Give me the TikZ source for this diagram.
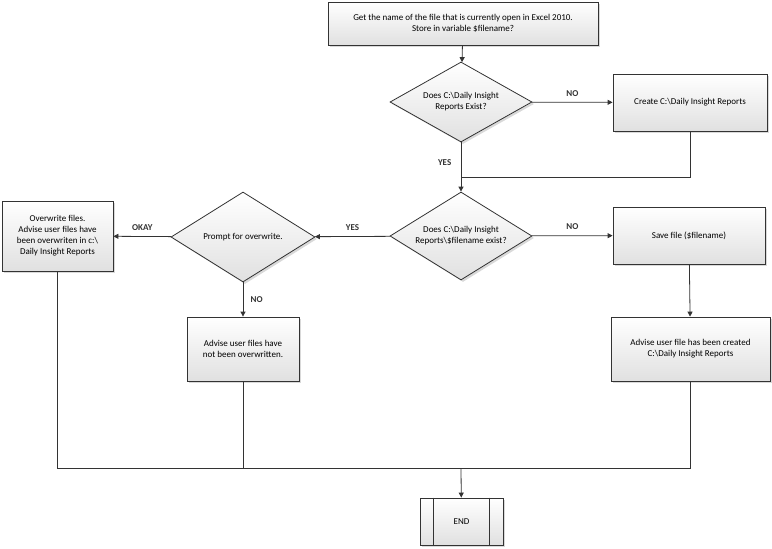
\documentclass[tikz,border=0pt]{standalone}
\usepackage{fontspec}
\setmainfont{Carlito}
\usetikzlibrary{shapes.geometric,shadows,arrows.meta}
\begin{document}
\begin{tikzpicture}[x=1pt,y=-1pt,
  font=\fontsize{9}{11}\selectfont,
  base/.style={draw=black!80,line width=0.8pt,top color=white,bottom color=black!12,drop shadow={opacity=0.3,shadow xshift=2pt,shadow yshift=-2pt},align=center,inner sep=2pt},
  box/.style={base,rectangle,minimum width=#1},
  dia/.style={base,diamond,aspect=1.75,inner sep=1pt},
  lab/.style={font=\fontsize{9}{11}\selectfont\bfseries},
  arr/.style={-{Triangle[length=5pt,width=5pt]},black!80,line width=0.8pt},
  ln/.style={black!80,line width=0.8pt}]
\useasboundingbox (0,0) rectangle (772,549);
\node[box=270pt,minimum height=43pt] (top) at (463,23.5) {Get the name of the file that is currently open in Excel 2010.\\Store in variable \$filename?};
\node[dia,minimum width=142pt,minimum height=80pt] (d1) at (461,102) {Does C:\textbackslash Daily Insight\\Reports Exist?};
\node[box=154pt,minimum height=57pt] (create) at (690,102.5) {Create C:\textbackslash Daily Insight Reports};
\node[dia,minimum width=142pt,minimum height=88pt] (d2) at (461,236) {Does C:\textbackslash Daily Insight\\Reports\textbackslash\$filename exist?};
\node[box=152pt,minimum height=57pt] (save) at (689,235.5) {Save file (\$filename)};
\node[box=159pt,minimum height=64pt] (adv1) at (690.5,349) {Advise user file has been created\\C:\textbackslash Daily Insight Reports};
\node[dia,minimum width=144pt,minimum height=90pt] (prompt) at (243,237) {Prompt for overwrite.};
\node[box=111pt,minimum height=70pt] (over) at (57.5,236) {Overwrite files.\\Advise user files have\\been overwriten in c:\textbackslash\\Daily Insight Reports};
\node[box=112pt,minimum height=64pt] (adv2) at (243,349) {Advise user files have\\not been overwritten.};
\node[box=83pt,minimum height=47pt] (end) at (461.5,521.5) {END};
\draw[ln] ([xshift=14pt]end.north west) -- ([xshift=14pt]end.south west)
          ([xshift=-14pt]end.north east) -- ([xshift=-14pt]end.south east);
\coordinate (j1) at (461,177);
\coordinate (j2) at (461,468);
\draw[arr] (top) -- (d1);
\draw[arr] (d1) -- node[lab,above=2pt,pos=0.5]{NO} (create);
\draw[ln] (create.south) -- (690,177) -- (j1);
\draw[arr] (d1) -- node[lab,left=6pt,pos=0.4]{YES} (d2);
\draw[arr] (d2) -- node[lab,above=2pt]{NO} (save);
\draw[arr] (save) -- (adv1);
\draw[arr] (d2) -- node[lab,above=2pt]{YES} (prompt);
\draw[arr] (prompt) -- node[lab,above=2pt]{OKAY} (over);
\draw[arr] (prompt) -- node[lab,right=4pt]{NO} (adv2);
\draw[ln] (over.south) -- (57.5,468) -- (690.5,468) -- (adv1.south);
\draw[ln] (adv2.south) -- (243,468);
\draw[arr] (j2) -- (end);
\end{tikzpicture}
\end{document}
